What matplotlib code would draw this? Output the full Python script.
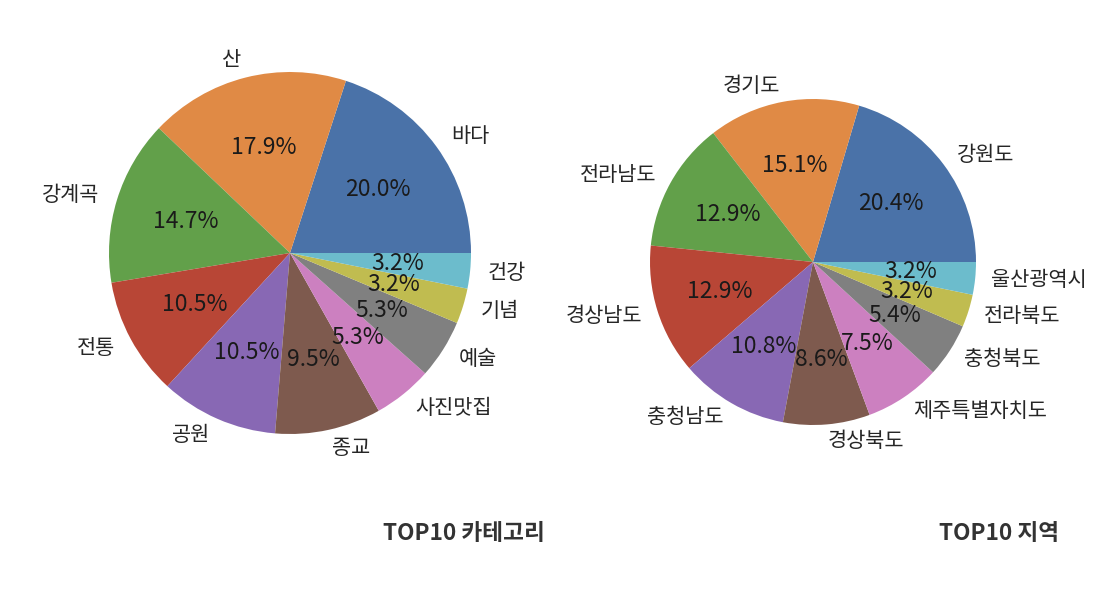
import matplotlib.pyplot as plt

plt.rcParams['font.family'] = ['Noto Sans CJK KR', 'DejaVu Sans']

cat_labels = ['바다', '산', '강계곡', '전통', '공원', '종교', '사진맛집', '예술', '기념', '건강']
cat_counts = [19, 17, 14, 10, 10, 9, 5, 5, 3, 3]

reg_labels = ['강원도', '경기도', '전라남도', '경상남도', '충청남도', '경상북도',
              '제주특별자치도', '충청북도', '전라북도', '울산광역시']
reg_counts = [19, 14, 12, 12, 10, 8, 7, 5, 3, 3]

colors = ['#4a72a8', '#e08a45', '#62a04a', '#b84636', '#8868b4',
          '#7e5a4e', '#cc80c0', '#808080', '#c0bc50', '#6cbccc']

W, H = 1120, 596
fig = plt.figure(figsize=(W / 100, H / 100), dpi=100)


def add_pie(cx, cy, r, labels, counts):
    size = 2.5 * r
    ax = fig.add_axes([(cx - size / 2) / W, (H - cy - size / 2) / H, size / W, size / H])
    wedges, texts, autotexts = ax.pie(counts, labels=labels, colors=colors,
                                      autopct='%1.1f%%',
                                      textprops={'fontsize': 15})
    for t in texts:
        t.set_color('#262626')
    for t in autotexts:
        t.set_color('#1a1a1a')
        t.set_fontsize(16.5)
    ax.set_xlim(-1.25, 1.25)
    ax.set_ylim(-1.25, 1.25)
    ax.set_aspect('equal')
    return ax


add_pie(290, 253, 181, cat_labels, cat_counts)
add_pie(813, 262, 163, reg_labels, reg_counts)

fig.text(464 / W, 1 - 533 / H, 'TOP10 카테고리', ha='center', va='center',
         fontsize=16.3, fontweight='bold', color='#333333')
fig.text(999 / W, 1 - 533 / H, 'TOP10 지역', ha='center', va='center',
         fontsize=16.3, fontweight='bold', color='#333333')

fig.savefig('out.png', dpi=100)
